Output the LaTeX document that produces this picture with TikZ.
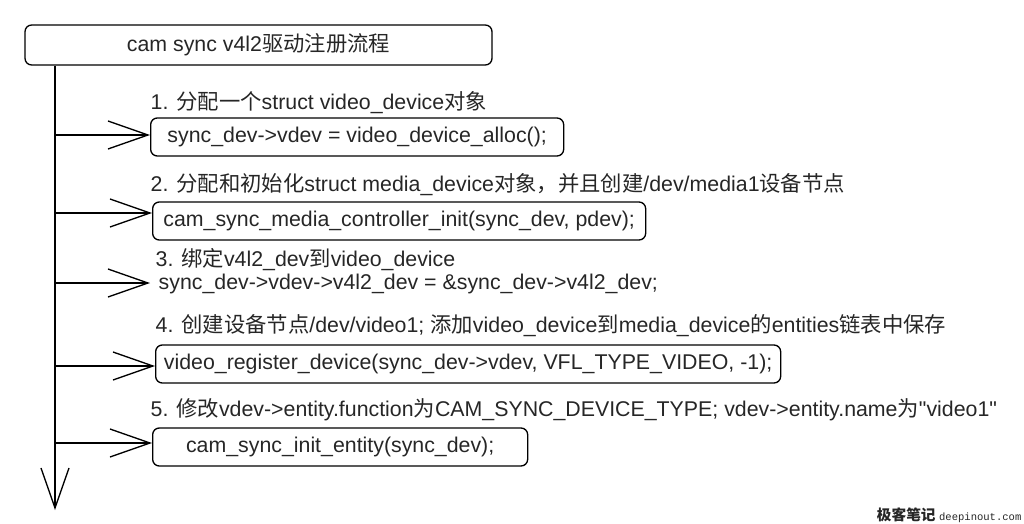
\documentclass[tikz,border=0pt]{standalone}
\usepackage{fontspec}
\setmainfont{Liberation Sans}
\newfontfamily\zhfont{Noto Sans CJK SC}
\newfontfamily\markfont{Liberation Mono}
\usetikzlibrary{arrows.meta}
\newcommand{\zh}[1]{{\zhfont #1}}

\tikzset{every picture/.style={line width=1pt}}
\tikzset{
  stepbox/.style={draw, rounded corners=5pt, anchor=west, inner sep=0pt, minimum height=28.5pt},
  steptext/.style={anchor=west, inner sep=0pt},
  branch/.style={-{Straight Barb[length=30pt,width=21pt]}},
}

\begin{document}
\begin{tikzpicture}[x=0.75pt,y=0.75pt,yscale=-1,font=\fontsize{16}{19}\selectfont,text=black!85]
	\useasboundingbox (0,0) rectangle (1024,524);
	
	%Title box
	\node [draw, rounded corners=5pt, minimum width=350.25pt, minimum height=30pt, inner sep=0pt] (title) at (258.5,45) {cam sync v4l2\zh{驱动注册流程}};
	
	% Text Node
	\node [steptext] (l1) at (150,103) {1. \zh{分配一个}struct video\_device\zh{对象}};
	\node [stepbox, minimum width=309.75pt] (b1) at (150,137) {sync\_dev->vdev = video\_device\_alloc();};
	% Text Node
	\node [steptext] (l2) at (150,185) {2. \zh{分配和初始化}struct media\_device\zh{对象，并且创建}/dev/media1\zh{设备节点}};
	\node [stepbox, minimum width=369.75pt] (b2) at (152,221) {cam\_sync\_media\_controller\_init(sync\_dev, pdev);};
	% Text Node
	\node [steptext] (l3) at (155,260) {3. \zh{绑定}v4l2\_dev\zh{到}video\_device};
	\node [steptext, inner xsep=6pt] (c3) at (150,284) {sync\_dev->vdev->v4l2\_dev = \&sync\_dev->v4l2\_dev;};
	% Text Node
	\node [steptext] (l4) at (155,326) {4. \zh{创建设备节点}/dev/video1; \zh{添加}video\_device\zh{到}media\_device\zh{的}entities\zh{链表中保存}};
	\node [stepbox, minimum width=468.75pt] (b4) at (155,364) {video\_register\_device(sync\_dev->vdev, VFL\_TYPE\_VIDEO, -1);};
	% Text Node
	\node [steptext] (l5) at (150,410) {5. \zh{修改}vdev->entity.function\zh{为}CAM\_SYNC\_DEVICE\_TYPE; vdev->entity.name\zh{为}\textquotedbl video1\textquotedbl};
	\node [stepbox, minimum width=281.25pt] (b5) at (152,447) {cam\_sync\_init\_entity(sync\_dev);};
	
	%Straight Lines
	\coordinate (trunk) at (55,0);
	\coordinate (bottom) at (55,510);
	\draw [branch] (title.south -| trunk) -- (bottom);
	\coordinate (j1) at (55,135);
	\coordinate (j2) at (55,213);
	\coordinate (j3) at (55,283);
	\coordinate (j4) at (55,366);
	\coordinate (j5) at (55,443);
	\draw [branch] (j1) -- (j1 -| b1.west);
	\draw [branch] (j2) -- (j2 -| b2.west);
	\draw [branch] (j3) -- (j3 -| c3.west);
	\draw [branch] (j4) -- (j4 -| b4.west);
	\draw [branch] (j5) -- (j5 -| b5.west);
	
	% Watermark
	\node [anchor=east, inner sep=0pt] (mark) at (1022,515) {{\zhfont\fontsize{11}{12}\bfseries\selectfont 极客笔记}\,{\markfont\fontsize{7.9}{9}\selectfont deepinout.com}};
	
\end{tikzpicture}
\end{document}
